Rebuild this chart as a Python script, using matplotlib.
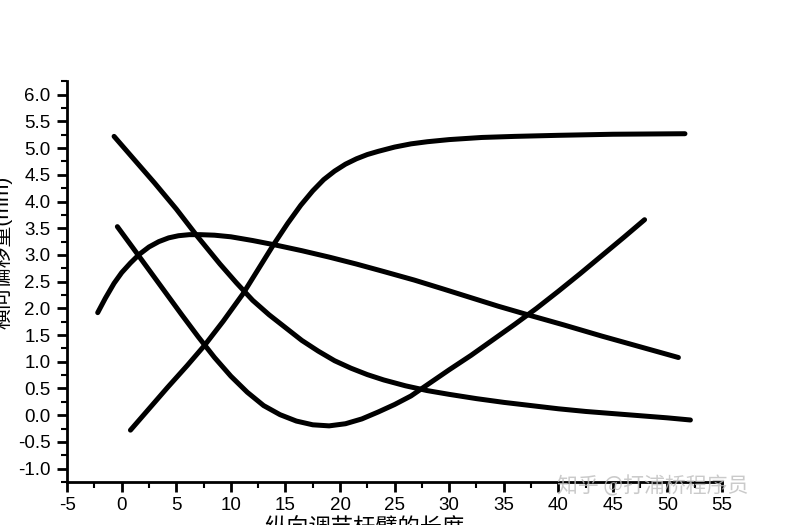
import matplotlib.pyplot as plt
from matplotlib.ticker import MultipleLocator

plt.rcParams['font.family'] = ['Liberation Sans', 'Noto Sans CJK SC', 'DejaVu Sans']
plt.rcParams['axes.unicode_minus'] = False

# Curve values
a_x = [-0.7, 1, 3, 5, 7, 9, 10.5, 12, 13.5, 15, 16.5, 18, 19.5, 21, 22.5, 24, 26, 28,
       30, 32.5, 35, 37.5, 40, 42.5, 45, 47.5, 50, 52.1]
a_y = [5.22, 4.82, 4.35, 3.86, 3.33, 2.83, 2.48, 2.15, 1.88, 1.64, 1.40, 1.20, 1.02, 0.88,
       0.76, 0.66, 0.55, 0.46, 0.39, 0.31, 0.24, 0.18, 0.12, 0.07, 0.03, -0.01, -0.05, -0.09]

b_x = [-0.4, 1, 2.5, 4, 5.5, 7, 8.5, 10, 11.5, 13, 14.5, 16, 17.5, 19, 20.5, 22, 23.5,
       25, 26.5, 28, 30, 32, 34, 36, 38, 40, 42, 44, 46, 47.9]
b_y = [3.53, 3.14, 2.72, 2.30, 1.88, 1.47, 1.08, 0.73, 0.43, 0.18, 0.01, -0.11, -0.18,
       -0.20, -0.16, -0.07, 0.06, 0.20, 0.36, 0.57, 0.85, 1.12, 1.41, 1.70, 2.00, 2.32,
       2.65, 2.99, 3.33, 3.66]

c_x = [-2.2, -1.5, -0.7, 0, 0.8, 1.6, 2.5, 3.4, 4.3, 5.2, 6.2, 7.2, 8.5, 10, 12, 14,
       16.5, 19, 21.5, 24, 26.8, 29.5, 32, 34.5, 37.2, 40.5, 44, 47.5, 51]
c_y = [1.92, 2.19, 2.47, 2.67, 2.85, 3.01, 3.15, 3.25, 3.32, 3.36, 3.38, 3.38, 3.37,
       3.34, 3.27, 3.19, 3.08, 2.96, 2.83, 2.69, 2.53, 2.36, 2.20, 2.04, 1.88, 1.69,
       1.48, 1.28, 1.08]

d_x = [0.8, 2.5, 4.2, 6, 7.6, 9.3, 11.1, 12.5, 13.9, 15.2, 16.4, 17.5, 18.5, 19.5, 20.5,
       21.5, 22.5, 23.5, 25, 26.5, 28, 30, 33, 36, 40, 45, 51.6]
d_y = [-0.28, 0.12, 0.52, 0.93, 1.31, 1.76, 2.27, 2.73, 3.19, 3.59, 3.93, 4.20, 4.41,
       4.57, 4.70, 4.80, 4.88, 4.94, 5.02, 5.08, 5.12, 5.16, 5.20, 5.22, 5.24, 5.26, 5.27]

fig = plt.figure(figsize=(7.9, 5.25), dpi=100)
ax = fig.add_axes([0.085, 0.082, 0.829, 0.763])

for xs, ys in [(a_x, a_y), (b_x, b_y), (c_x, c_y), (d_x, d_y)]:
    ax.plot(xs, ys, color='black', lw=3.6, solid_capstyle='round', solid_joinstyle='round')

ax.set_xlim(-5, 55)
ax.set_ylim(-1.25, 6.25)
ax.xaxis.set_major_locator(MultipleLocator(5))
ax.xaxis.set_minor_locator(MultipleLocator(2.5))
ax.yaxis.set_major_locator(MultipleLocator(0.5))
ax.yaxis.set_minor_locator(MultipleLocator(0.25))
ax.yaxis.set_major_formatter(plt.FormatStrFormatter('%.1f'))

for s in ['top', 'right']:
    ax.spines[s].set_visible(False)
for s in ['left', 'bottom']:
    ax.spines[s].set_linewidth(2)

ax.tick_params(which='major', direction='out', length=7, width=2, labelsize=13.5)
ax.tick_params(axis='y', which='major', pad=5)
ax.tick_params(which='minor', direction='out', length=4, width=1.5)

# axis titles sit mostly outside the figure edge, as in the reference
fig.text(0.335, 0.012, '纵向调节杆臂的长度', fontsize=16, va='top', ha='left')
fig.text(-0.012, 0.52, '横向偏移量(mm)', fontsize=15, rotation=90, va='center', ha='left')

# watermark
fig.text(0.705, 0.062, '知乎 @打浦桥程序员', fontsize=15, color='#bdbdbd', alpha=0.8,
         family=['Noto Sans CJK SC', 'DejaVu Sans'])

plt.savefig('out.png', dpi=100)
plt.close()
